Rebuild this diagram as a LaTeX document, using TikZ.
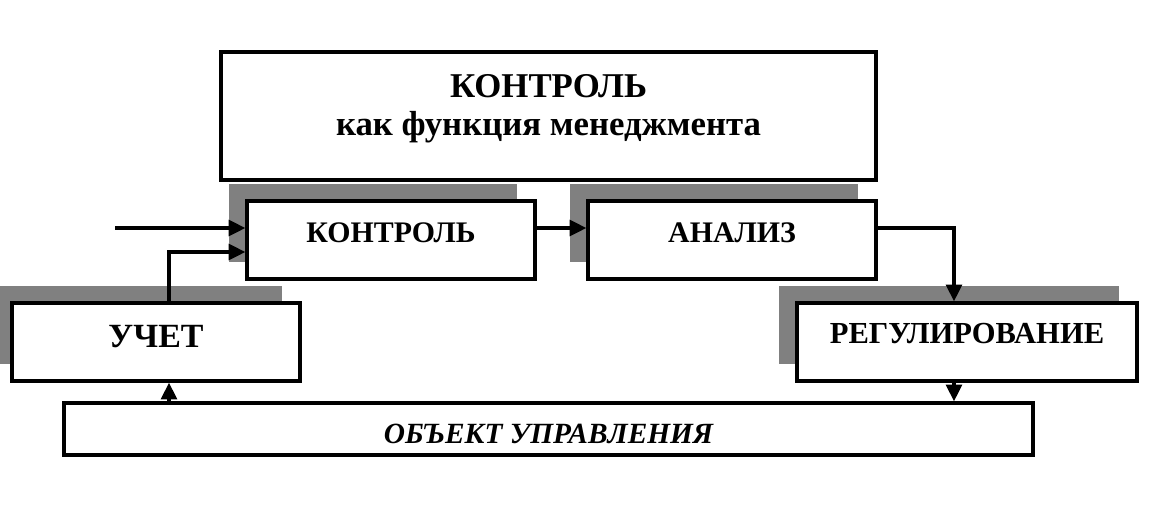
\documentclass[tikz,border=0pt]{standalone}
\usepackage{fontspec}
\setmainfont{Liberation Serif}
\usepackage{xcolor}
\usepackage{tikz}
\usetikzlibrary{arrows.meta,calc,positioning,shadows}
\definecolor{shadowgray}{RGB}{128,128,128}

\begin{document}
\begin{tikzpicture}[x=0.02cm,y=-0.02cm,
  box/.style={draw,line width=1.9pt,fill=white,inner sep=0pt,
    font=\fontsize{17}{20}\selectfont\bfseries,
    minimum width=5.76cm,minimum height=1.56cm},
  shadowed/.style={general shadow={fill=shadowgray,shadow xshift=-0.36cm,shadow yshift=0.34cm}},
  arr/.style={line width=1.9pt,-{Triangle[length=9.5pt,width=9pt]}}]
  \useasboundingbox (0,0) rectangle (1165,522);
  % boxes
  \node[box,minimum width=13.1cm,minimum height=2.56cm,align=center,
    font=\fontsize{19.8}{21.5}\selectfont\bfseries,text depth=12.4pt] (top) at (548.5,116) {КОНТРОЛЬ\\как функция менеджмента};
  \node[box,shadowed,text height=11.25pt,text depth=7.9pt] (kontrol) at (391,240) {КОНТРОЛЬ};
  \node[box,shadowed,text height=11.25pt,text depth=7.9pt] (analiz) at (732,240) {АНАЛИЗ};
  \node[box,shadowed,font=\fontsize{19.3}{22}\selectfont\bfseries,
    text height=12.8pt,text depth=6.8pt] (uchet) at (156,342) {УЧЕТ};
  \node[box,shadowed,minimum width=6.8cm,font=\fontsize{17.4}{20}\selectfont\bfseries,
    text height=11.5pt,text depth=10.2pt] (regul) at (967,342) {РЕГУЛИРОВАНИЕ};
  \node[box,minimum width=19.38cm,minimum height=1.04cm,
    font=\fontsize{16.7}{20}\selectfont\bfseries\itshape,
    text height=16.7pt,text depth=0pt] (object) at (548.5,429) {ОБЪЕКТ УПРАВЛЕНИЯ};
  % arrows
  \coordinate (in) at (115,228);
  \draw[arr] (in) -- (in -| kontrol.west);
  \draw[arr] ($(uchet.north)+(13,0)$) |- ($(kontrol.west)+(0,12)$);
  \draw[arr] ($(kontrol.east)+(0,-12)$) -- ($(analiz.west)+(0,-12)$);
  \draw[arr] ($(analiz.east)+(0,-12)$) -| ($(regul.north)+(-13,0)$);
  \path ($(regul.south)+(-13,0)$) coordinate (r) ($(uchet.south)+(13,0)$) coordinate (u);
  \draw[arr] (r) -- (r |- object.north);
  \draw[arr] (u |- object.north) -- (u);
\end{tikzpicture}
\end{document}
